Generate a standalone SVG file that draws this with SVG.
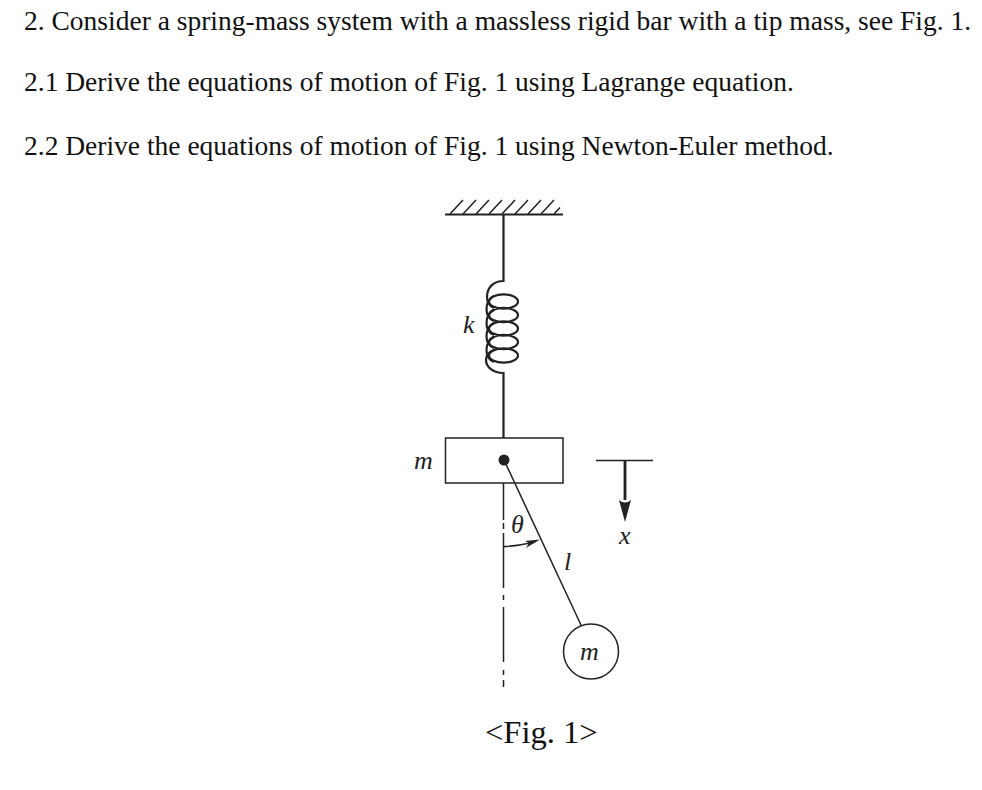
<svg xmlns="http://www.w3.org/2000/svg" width="982" height="790" viewBox="0 0 982 790">
<style>
.t{font-family:"Liberation Serif",serif;font-size:27.5px;fill:#111}
.f{font-family:"Liberation Serif",serif;font-size:32.5px;fill:#111}
.v{font-family:"Liberation Serif",serif;font-style:italic;font-size:26px;fill:#222}
.l{fill:none;stroke:#222;stroke-width:2.2}
.n{fill:none;stroke:#222;stroke-width:1.5}
</style>
<rect width="982" height="790" fill="#fff"/>
<g id="text">
<text class="t" x="24" y="30">2. Consider a spring-mass system with a massless rigid bar with a tip mass, see Fig. 1.</text>
<text class="t" x="24" y="91">2.1 Derive the equations of motion of Fig. 1 using Lagrange equation.</text>
<text class="t" x="24" y="155">2.2 Derive the equations of motion of Fig. 1 using Newton-Euler method.</text>
<text class="f" x="485" y="743">&lt;Fig. 1&gt;</text>
</g>
<g id="ceiling">
<path class="l" d="M445 214.500H563"/>
<path class="n" d="M450 214L463 200M463 214L476 200M476 214L489 200M489 214L502 200M502 214L515 200M515 214L528 200M528 214L541 200M541 214L554 200M554 214L560 207.500"/>
</g>
<g id="connectors">
<path class="l" d="M503.500 215V281C493 281 487 288 487 297C487 302 489 306 494 308"/>
<path class="l" d="M489 301.500a14.500 7.200 0 1 0 29 0a14.500 7.200 0 1 0 -29 0M489 315a14.500 7.200 0 1 0 29 0a14.500 7.200 0 1 0 -29 0M489 328.500a14.500 7.200 0 1 0 29 0a14.500 7.200 0 1 0 -29 0M489 342a14.500 7.200 0 1 0 29 0a14.500 7.200 0 1 0 -29 0M489 355.500a14.500 7.200 0 1 0 29 0a14.500 7.200 0 1 0 -29 0"/>
<path class="l" d="M494 296C484 301 484 317 494 321M494 310C484 315 484 331 494 335M494 323C484 328 484 344 494 348M494 337C484 342 484 358 494 362"/>
<path class="l" d="M494 350C488 352 486 356 486 360C486 367 493 373 503.500 373V438"/>
<path class="n" d="M504 460L581 625"/>
<path class="n" d="M503.500 483V520M503.500 523V529M503.500 533V588M503.500 595V600M503.500 607V662M503.500 670V675M503.500 680V687"/>
<path class="n" d="M504 546.500C516 546 527 544 535 541.500"/>
<path d="M540 539.500L526 548L529 543L525 541Z" fill="#222"/>
<path class="n" d="M596 460.500H653"/>
<path d="M625 460V500" fill="none" stroke="#222" stroke-width="2.800"/>
<path d="M625 522L619 500Q625 505 631 500Z" fill="#222"/>
</g>
<g id="k"><text class="v" x="463" y="333">k</text></g>
<g id="bar">
<rect class="n" x="445.500" y="438" width="117.500" height="45"/>
<circle cx="504" cy="460" r="5.500" fill="#222"/>
<text class="v" x="414" y="469">m</text>
</g>
<g id="theta"><text class="v" x="511" y="533">θ</text></g>
<g id="l"><text class="v" x="564" y="570">l</text></g>
<g id="x"><text class="v" x="619" y="544">x</text></g>
<g id="tip">
<circle class="n" cx="591" cy="651.500" r="27.500"/>
<text class="v" x="580" y="660">m</text>
</g>
</svg>
